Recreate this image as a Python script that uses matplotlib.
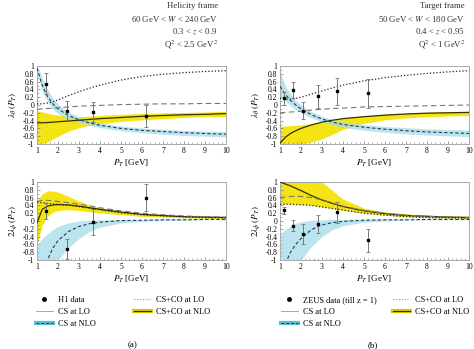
import numpy as np
import matplotlib
matplotlib.use("Agg")
import matplotlib.pyplot as plt
from matplotlib.lines import Line2D
from matplotlib.ticker import MultipleLocator

plt.rcParams['font.family'] = ['Liberation Serif', 'DejaVu Serif']
plt.rcParams['mathtext.fontset'] = 'stix'

# --- data ---
pt = [1, 1.25, 1.5, 1.75, 2, 2.5, 3, 3.5, 4, 5, 6, 7, 8, 9, 10]

# (a) helicity frame, lambda_theta
a_lt_dot = [0.03, 0.03, 0.05, 0.08, 0.13, 0.24, 0.34, 0.43, 0.51, 0.64, 0.73, 0.79, 0.83, 0.86, 0.88]
a_lt_dash = [-0.11, -0.10, -0.09, -0.08, -0.07, -0.05, -0.03, -0.02, -0.01, 0.01, 0.02, 0.03, 0.03, 0.04, 0.04]
a_lt_cs = [0.95, 0.5, 0.22, 0.03, -0.1, -0.27, -0.38, -0.46, -0.52, -0.6, -0.65, -0.68, -0.71, -0.73, -0.75]
a_lt_cs_hi = [1.0, 0.7, 0.4, 0.17, 0.03, -0.18, -0.31, -0.4, -0.46, -0.54, -0.59, -0.62, -0.65, -0.67, -0.68]
a_lt_cs_lo = [0.85, 0.35, 0.08, -0.1, -0.22, -0.36, -0.45, -0.52, -0.58, -0.66, -0.71, -0.75, -0.78, -0.8, -0.82]
a_lt_co = [-0.46, -0.455, -0.45, -0.44, -0.43, -0.41, -0.39, -0.37, -0.35, -0.32, -0.29, -0.27, -0.25, -0.24, -0.22]
a_lt_co_hi = [-0.15, -0.18, -0.21, -0.24, -0.26, -0.29, -0.3, -0.29, -0.27, -0.24, -0.22, -0.2, -0.19, -0.18, -0.16]
a_lt_co_lo = [-1.0, -0.98, -0.95, -0.87, -0.8, -0.67, -0.58, -0.52, -0.48, -0.42, -0.38, -0.35, -0.32, -0.3, -0.29]
a_lt_x = [1.45, 2.45, 3.65, 6.2]
a_lt_y = [0.55, -0.15, -0.18, -0.28]
a_lt_err = [0.27, 0.24, 0.25, 0.29]

# (a) helicity frame, 2 lambda_phi
a_lp_dot = [0.48, 0.47, 0.45, 0.44, 0.43, 0.41, 0.37, 0.33, 0.29, 0.21, 0.16, 0.13, 0.11, 0.09, 0.08]
a_lp_dash = [0.5, 0.53, 0.53, 0.52, 0.5, 0.47, 0.43, 0.39, 0.34, 0.26, 0.2, 0.16, 0.13, 0.11, 0.1]
a_lp_cs = [-1.6, -1.3, -1.0, -0.7, -0.5, -0.27, -0.14, -0.07, -0.03, 0.01, 0.02, 0.03, 0.03, 0.04, 0.04]
a_lp_cs_hi = [-0.6, -0.45, -0.33, -0.22, -0.14, -0.05, 0.0, 0.02, 0.03, 0.04, 0.04, 0.05, 0.05, 0.05, 0.05]
a_lp_cs_lo = [-1.5, -1.5, -1.4, -1.2, -1.0, -0.68, -0.45, -0.27, -0.16, -0.05, -0.01, 0.01, 0.02, 0.03, 0.03]
a_lp_co = [-0.05, 0.3, 0.38, 0.41, 0.42, 0.41, 0.38, 0.34, 0.3, 0.23, 0.17, 0.14, 0.11, 0.1, 0.09]
a_lp_co_hi = [0.5, 0.7, 0.77, 0.77, 0.74, 0.63, 0.51, 0.41, 0.34, 0.25, 0.19, 0.15, 0.13, 0.12, 0.11]
a_lp_co_lo = [-0.6, -0.1, 0.12, 0.22, 0.27, 0.29, 0.27, 0.24, 0.21, 0.16, 0.12, 0.1, 0.08, 0.07, 0.06]
a_lp_x = [1.45, 2.45, 3.65, 6.2]
a_lp_y = [0.25, -0.72, -0.03, 0.6]
a_lp_err = [0.2, 0.25, 0.34, 0.34]

# (b) target frame, lambda_theta
b_lt_dot = [0.17, 0.15, 0.15, 0.17, 0.2, 0.28, 0.36, 0.44, 0.51, 0.62, 0.7, 0.76, 0.81, 0.85, 0.88]
b_lt_dash = [-0.2, -0.19, -0.18, -0.17, -0.16, -0.13, -0.11, -0.09, -0.08, -0.05, -0.04, -0.03, -0.02, -0.01, 0.0]
b_lt_cs = [0.48, 0.27, 0.12, 0.0, -0.1, -0.25, -0.36, -0.44, -0.5, -0.57, -0.62, -0.66, -0.69, -0.71, -0.73]
b_lt_cs_hi = [0.85, 0.5, 0.28, 0.12, 0.0, -0.17, -0.29, -0.37, -0.43, -0.5, -0.55, -0.58, -0.61, -0.63, -0.64]
b_lt_cs_lo = [0.25, 0.1, -0.02, -0.12, -0.2, -0.33, -0.43, -0.51, -0.57, -0.65, -0.7, -0.74, -0.77, -0.79, -0.81]
b_lt_co = [-0.98, -0.83, -0.73, -0.66, -0.6, -0.51, -0.44, -0.39, -0.35, -0.3, -0.26, -0.23, -0.21, -0.2, -0.19]
b_lt_co_hi = [-0.55, -0.54, -0.53, -0.52, -0.51, -0.48, -0.44, -0.39, -0.34, -0.28, -0.24, -0.21, -0.19, -0.17, -0.16]
b_lt_co_lo = [-1.0, -1.0, -1.0, -1.0, -1.0, -0.95, -0.87, -0.75, -0.62, -0.47, -0.38, -0.33, -0.3, -0.28, -0.27]
b_lt_x = [1.2, 1.6, 2.1, 2.8, 3.7, 5.2]
b_lt_y = [0.17, 0.38, -0.15, 0.22, 0.35, 0.3]
b_lt_err = [0.16, 0.2, 0.22, 0.3, 0.35, 0.37]

# (b) target frame, 2 lambda_phi
b_lp_dot = [0.43, 0.43, 0.43, 0.42, 0.42, 0.4, 0.36, 0.32, 0.28, 0.2, 0.15, 0.11, 0.09, 0.08, 0.07]
b_lp_dash = [0.6, 0.62, 0.63, 0.63, 0.63, 0.6, 0.54, 0.46, 0.38, 0.27, 0.2, 0.15, 0.12, 0.1, 0.09]
b_lp_cs = [-1.5, -1.1, -0.8, -0.6, -0.45, -0.22, -0.1, -0.04, -0.01, 0.02, 0.03, 0.03, 0.04, 0.04, 0.04]
b_lp_cs_hi = [-0.35, -0.22, -0.13, -0.06, -0.02, 0.02, 0.03, 0.04, 0.04, 0.05, 0.05, 0.05, 0.05, 0.05, 0.05]
b_lp_cs_lo = [-1.5, -1.5, -1.4, -1.2, -1.0, -0.65, -0.4, -0.22, -0.12, -0.03, 0.0, 0.02, 0.03, 0.03, 0.03]
b_lp_co = [1.0, 0.95, 0.9, 0.84, 0.78, 0.65, 0.54, 0.45, 0.37, 0.26, 0.19, 0.14, 0.12, 0.1, 0.09]
b_lp_co_hi = [1.3, 1.3, 1.25, 1.2, 1.15, 1.08, 1.0, 0.78, 0.56, 0.33, 0.23, 0.18, 0.15, 0.13, 0.12]
b_lp_co_lo = [0.44, 0.44, 0.44, 0.43, 0.42, 0.4, 0.36, 0.32, 0.28, 0.2, 0.15, 0.11, 0.09, 0.08, 0.07]
b_lp_x = [1.2, 1.6, 2.1, 2.8, 3.7, 5.2]
b_lp_y = [0.27, -0.12, -0.33, -0.08, 0.22, -0.5]
b_lp_err = [0.08, 0.14, 0.26, 0.23, 0.26, 0.29]

YELLOW = '#f4e413'
CYAN = '#a6dbe9'
GRAY = '#777777'

W, H = 474, 349
fig = plt.figure(figsize=(W / 100, H / 100), dpi=100)


def box(x0, y0, x1, y1):
    return [x0 / W, 1 - y1 / H, (x1 - x0) / W, (y1 - y0) / H]


def panel(rect, dot, dash, cs, cs_hi, cs_lo, co, co_hi, co_lo, dx, dy, de, ylabel):
    ax = fig.add_axes(rect)
    ax.fill_between(pt, co_lo, co_hi, color=YELLOW, lw=0, zorder=1)
    ax.fill_between(pt, cs_lo, cs_hi, color=CYAN, alpha=0.75, lw=0, zorder=2)
    ax.plot(pt, co, color='#333300', lw=0.9, zorder=3)
    ax.plot(pt, cs, color='#1f3f55', lw=0.8, ls=(0, (3, 2)), zorder=3)
    ax.plot(pt, dash, color=GRAY, lw=0.8, ls=(0, (5, 3)), zorder=3)
    ax.plot(pt, dot, color='#222222', lw=0.9, ls=(0, (1, 1.6)), zorder=3)
    ax.errorbar(dx, dy, yerr=de, fmt='s', ms=2, color='black', ecolor=GRAY,
                elinewidth=0.7, capsize=1.5, capthick=0.6, zorder=4)
    ax.set_xlim(1, 10)
    ax.set_ylim(-1, 1)
    ax.set_xticks(range(1, 11))
    ax.set_yticks(np.round(np.arange(-1, 1.01, 0.2), 1))
    ax.set_yticklabels(['-1', '-0.8', '-0.6', '-0.4', '-0.2', '0', '0.2', '0.4', '0.6', '0.8', '1'])
    ax.xaxis.set_minor_locator(MultipleLocator(0.2))
    ax.yaxis.set_minor_locator(MultipleLocator(0.1))
    ax.tick_params(which='both', direction='in', labelsize=5.5, pad=2, color=GRAY)
    ax.tick_params(which='major', length=2.5, width=0.5)
    ax.tick_params(which='minor', length=1.5, width=0.4)
    for s in ax.spines.values():
        s.set_color('#aaaaaa')
        s.set_linewidth(0.7)
    ax.set_xlabel(r'$P_T$ [GeV]', fontsize=6.5, labelpad=2)
    ax.set_ylabel(ylabel, fontsize=6.5, labelpad=2)
    return ax


lt_lab = r'$\lambda_\theta\;(P_T)$'
lp_lab = r'$2\lambda_\phi\;(P_T)$'

panel(box(37, 66, 226, 144), a_lt_dot, a_lt_dash, a_lt_cs, a_lt_cs_hi, a_lt_cs_lo,
      a_lt_co, a_lt_co_hi, a_lt_co_lo, a_lt_x, a_lt_y, a_lt_err, lt_lab)
panel(box(37, 182, 226, 260), a_lp_dot, a_lp_dash, a_lp_cs, a_lp_cs_hi, a_lp_cs_lo,
      a_lp_co, a_lp_co_hi, a_lp_co_lo, a_lp_x, a_lp_y, a_lp_err, lp_lab)
panel(box(280, 66, 469, 144), b_lt_dot, b_lt_dash, b_lt_cs, b_lt_cs_hi, b_lt_cs_lo,
      b_lt_co, b_lt_co_hi, b_lt_co_lo, b_lt_x, b_lt_y, b_lt_err, lt_lab)
panel(box(280, 182, 469, 260), b_lp_dot, b_lp_dash, b_lp_cs, b_lp_cs_hi, b_lp_cs_lo,
      b_lp_co, b_lp_co_hi, b_lp_co_lo, b_lp_x, b_lp_y, b_lp_err, lp_lab)

# header texts
heads = [
    (218, ['Helicity frame', r'60 GeV < $W$ < 240 GeV', r'0.3 < $z$ < 0.9', r'Q$^2$ < 2.5 GeV$^2$']),
    (465, ['Target frame', r'50 GeV < $W$ < 180 GeV', r'0.4 < $z$ < 0.95', r'Q$^2$ < 1 GeV$^2$']),
]
for xr, lines in heads:
    for yy, t in zip([6, 19, 32, 45], lines):
        fig.text(xr / W, 1 - yy / H, t, ha='right', va='center', fontsize=6.3, color='#333333')

# legends
def leg_handles():
    data = Line2D([], [], marker='o', ms=2.5, color='black', ls='none')
    cslo = Line2D([], [], color='#999999', lw=0.6)
    csnlo = (Line2D([], [], color='#5bbcd3', lw=3), Line2D([], [], color='#1f3f55', lw=0.7, ls=(0, (3, 2))))
    colo = Line2D([], [], color='#999999', lw=0.8, ls=(0, (1, 1.5)))
    conlo = (Line2D([], [], color='#d8c800', lw=3), Line2D([], [], color='#333300', lw=0.8))
    return [data, cslo, csnlo, colo, conlo]


for x0, cs_gap, name in [(36, 4.6, 'H1 data'), (281, 2.0, 'ZEUS data (till z = 1)')]:
    labels = [name, 'CS at LO', 'CS at NLO', 'CS+CO at LO', 'CS+CO at NLO']
    fig.legend(leg_handles(), labels, loc='upper left', bbox_to_anchor=(x0 / W, 1 - 296 / H),
               ncol=2, frameon=False, fontsize=6, handlelength=2.0, handletextpad=0.6,
               labelspacing=0.45, columnspacing=cs_gap, borderaxespad=0, borderpad=0)

fig.text(133 / W, 1 - 345 / H, '(a)', ha='center', va='center', fontsize=6.5)
fig.text(373 / W, 1 - 345 / H, '(b)', ha='center', va='center', fontsize=6.5)

fig.savefig('out.png', dpi=100)
